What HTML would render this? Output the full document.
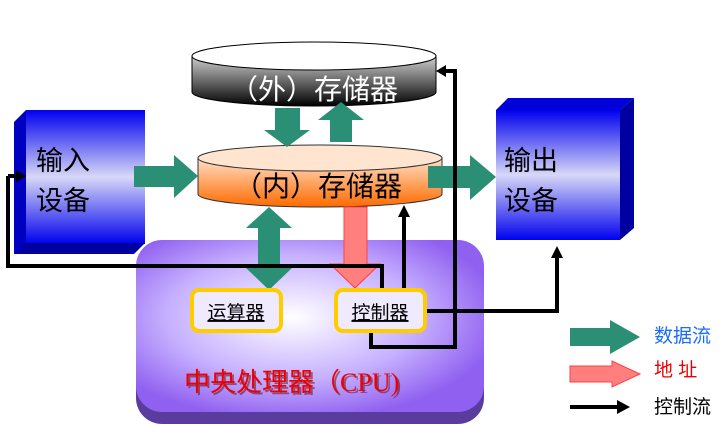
<!DOCTYPE html>
<html><head><meta charset="utf-8"><style>
body{margin:0;background:#fff;}
svg{display:block;font-family:"Liberation Sans","Noto Sans CJK SC",sans-serif;}
</style></head><body>
<svg width="728" height="427" viewBox="0 0 728 427" xmlns="http://www.w3.org/2000/svg">
<defs>
<linearGradient id="blue" x1="0" y1="0" x2="0" y2="1">
<stop offset="0" stop-color="#0000ee"/><stop offset="0.5" stop-color="#d8d8f8"/><stop offset="1" stop-color="#0000ee"/></linearGradient>
<linearGradient id="grey" x1="0" y1="0" x2="0" y2="1">
<stop offset="0" stop-color="#d0d0d0"/><stop offset="1" stop-color="#000"/></linearGradient>
<linearGradient id="orange" x1="0" y1="0" x2="0" y2="1">
<stop offset="0" stop-color="#ffe0c8"/><stop offset="1" stop-color="#ff6a00"/></linearGradient>
<radialGradient id="cpu" cx="0.45" cy="0.45" r="0.6">
<stop offset="0" stop-color="#ffffff"/><stop offset="0.6" stop-color="#c6b0ff"/><stop offset="1" stop-color="#9060f0"/></radialGradient>
</defs>
<rect x="136" y="246" width="348" height="178" rx="26" fill="#5a3c9e"/>
<rect x="136" y="240" width="348" height="172" rx="26" fill="url(#cpu)"/>
<polygon points="14,122 26,110 26,254 14,254" fill="#0000c0"/>
<rect x="26" y="110" width="119" height="134" fill="url(#blue)"/>
<polygon points="14,254 26,243 145,243 134,254" fill="#0000a0"/>
<text x="36" y="170" font-size="27" fill="#000">输入</text>
<text x="36" y="210" font-size="27" fill="#000">设备</text>
<polygon points="496,110 508,98 634,98 620,110" fill="#0000d8"/>
<polygon points="620,110 634,98 634,228 620,240" fill="#0000a0"/>
<rect x="496" y="110" width="124" height="130" fill="url(#blue)"/>
<text x="504" y="170" font-size="27" fill="#000">输出</text>
<text x="504" y="210" font-size="27" fill="#000">设备</text>
<path d="M192,56 L192,92 A122,14 0 0 0 436,92 L436,56 Z" fill="url(#grey)" stroke="#000"/>
<ellipse cx="314" cy="56" rx="122" ry="14" fill="#fff" stroke="#000"/>
<text x="314" y="99" font-size="28" fill="#fff" text-anchor="middle">（外）存储器</text>
<path d="M198,158 L198,194 A122,13 0 0 0 442,194 L442,158 Z" fill="url(#orange)" stroke="#333"/>
<ellipse cx="320" cy="158" rx="122" ry="13" fill="#ffe4d0" stroke="#333"/>
<text x="318" y="196" font-size="28" fill="#000" text-anchor="middle">（内）存储器</text>
<g fill="#2a8f74">
<polygon points="134,166 174,166 174,155 198,176 174,198 174,187 134,187"/>
<polygon points="428,166 470,166 470,155 496,177 470,200 470,188 428,188"/>
<polygon points="275,108 300,108 300,130 310,130 287,147 264,130 275,130"/>
<polygon points="330,142 352,142 352,120 364,120 341,102 318,120 330,120"/>
<polygon points="258,228 246,228 269,207 292,228 280,228 280,268 292,268 269,290 246,268 258,268"/>
</g>
<polygon points="344,207 367,207 367,264 380,264 355,288 330,264 344,264" fill="#ff7f7f" stroke="#ff4040"/>
<g stroke="#000" stroke-width="4" fill="none">
<polyline points="8,176 8,266 382,266 382,292"/>
<polyline points="371,332 371,347 455,347 455,71 444,71"/>
<polyline points="404,292 404,216"/>
<polyline points="426,311 557,311 557,258"/>
<polyline points="8,176 18,176"/>
</g>
<g fill="#000">
<polygon points="26,176 16,170 16,182"/>
<polygon points="436,71 446,65 446,77"/>
<polygon points="404,205 398,217 410,217"/>
<polygon points="557,246 551,258 563,258"/>
</g>
<rect x="192" y="290" width="89" height="41" rx="7" fill="#f0eaff" stroke="#ffcc00" stroke-width="4"/>
<text x="236" y="319" font-size="19" text-anchor="middle" text-decoration="underline" fill="#000">运算器</text>
<rect x="336" y="290" width="89" height="41" rx="7" fill="#f0eaff" stroke="#ffcc00" stroke-width="4"/>
<text x="380" y="319" font-size="19" text-anchor="middle" text-decoration="underline" fill="#000">控制器</text>
<g font-family="Liberation Serif, Noto Sans CJK SC, serif" font-size="26">
<text x="186" y="393" fill="#600" opacity="0.5">中央处理器（CPU)</text>
<text x="184" y="391" fill="#ee0000">中央处理器（CPU)</text>
</g>
<polygon points="570,328 610,328 610,320 640,337 610,354 610,346 570,346" fill="#2a8f74"/>
<polygon points="570,366 612,366 612,361 640,374 612,387 612,382 570,382" fill="#ff7f7f" stroke="#ff4040"/>
<line x1="570" y1="407" x2="618" y2="407" stroke="#000" stroke-width="4"/>
<polygon points="630,407 617,400 617,414" fill="#000"/>
<text x="654" y="342" font-size="19" fill="#1a6cff">数据流</text>
<text x="654" y="376" font-size="19" fill="#ee0000">地  址</text>
<text x="654" y="413" font-size="19" fill="#000">控制流</text>
</svg>
</body></html>
